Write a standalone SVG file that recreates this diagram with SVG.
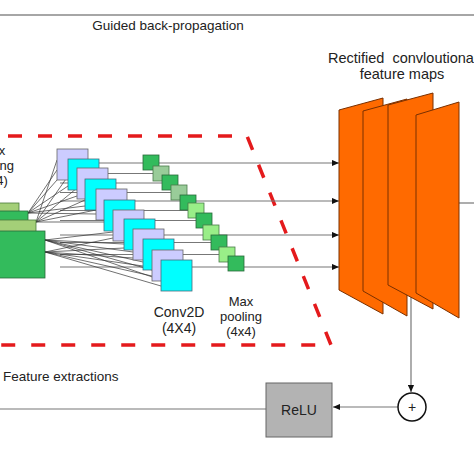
<svg xmlns="http://www.w3.org/2000/svg" width="474" height="474" viewBox="0 0 474 474">
<defs>
<marker id="ah" viewBox="0 0 8 8" refX="8" refY="4" markerWidth="7" markerHeight="7" markerUnits="userSpaceOnUse" orient="auto">
<path d="M0,0.5 L8,4 L0,7.5 Z" fill="#111"/>
</marker>
<style>
text{font-family:"Liberation Sans",Arial,sans-serif;fill:#222}
.ln{stroke:#777;stroke-width:1.2;fill:none}
.fan{stroke:#333;stroke-width:0.7;fill:none}
.lav{fill:#ccccff;stroke:#666;stroke-width:0.8}
.cy{fill:#00ffff;stroke:#4a6a7a;stroke-width:0.8}
.dg{fill:#33bb5c;stroke:#2a6a3a;stroke-width:0.8}
.sg{fill:#99cc99;stroke:#4a7a4a;stroke-width:0.8}
.lg{fill:#99ee88;stroke:#4a7a4a;stroke-width:0.8}
.ol{fill:#a4cf78;stroke:#4a7a3a;stroke-width:0.8}
.map{fill:#ff6a00;stroke:#7a3000;stroke-width:1}
.red{stroke:#e41a1c;stroke-width:3.5;fill:none;stroke-dasharray:14 16;stroke-dashoffset:22}
</style>
</defs>
<rect width="474" height="474" fill="#fff"/>
<line x1="0" y1="15" x2="474" y2="15" stroke="#888" stroke-width="1.5"/>
<text x="168" y="30" font-size="13.5" text-anchor="middle">Guided back-propagation</text>
<text x="328" y="63" font-size="14.5" xml:space="preserve">Rectified  convloutional</text>
<text x="402" y="79" font-size="14.5" text-anchor="middle">feature maps</text>
<path class="red" d="M0,136 L247,136 L331,345 L0,345"/>
<text font-size="13" text-anchor="middle"><tspan x="-7" y="155">Max</tspan><tspan x="-7" y="170">pooling</tspan><tspan x="-7" y="185">(4x4)</tspan></text>
<g id="connectors">
<line class="ln" x1="60" y1="173.5" x2="153" y2="173.5"/>
<line class="ln" x1="60" y1="183" x2="162" y2="183"/>
<line class="ln" x1="60" y1="192.5" x2="171" y2="192.5"/>
<line class="ln" x1="60" y1="210.5" x2="188" y2="210.5"/>
<line class="ln" x1="60" y1="220.5" x2="196" y2="220.5"/>
<line class="ln" x1="60" y1="242.5" x2="211" y2="242.5"/>
<line class="ln" x1="60" y1="254.5" x2="219" y2="254.5"/>
<line class="ln" x1="60" y1="163" x2="339" y2="163" marker-end="url(#ah)"/>
<line class="ln" x1="60" y1="201" x2="339" y2="201" marker-end="url(#ah)"/>
<line class="ln" x1="60" y1="235" x2="339" y2="235" marker-end="url(#ah)"/>
<line class="ln" x1="60" y1="267" x2="339" y2="267" marker-end="url(#ah)"/>
<path class="fan" d="M28,213 L57,170 M28,213 L57,180 M28,213 L68,186 M28,213 L77,196 M28,213 L85,206 M28,213 L96,214 M36,222 L57,160 M36,222 L68,176 M36,222 L77,188 M36,222 L85,200 M36,222 L96,210 M36,222 L104,222"/>
<path class="fan" d="M45,240 L113,232 M45,240 L124,244 M45,240 L133,252 M45,240 L143,262 M45,240 L152,270 M45,240 L161,280 M45,252 L113,238 M45,252 L124,248 M45,252 L133,258 M45,252 L143,266 M45,252 L152,276 M45,252 L161,286"/>
<line class="ln" x1="459" y1="203" x2="474" y2="203"/>
<line class="ln" x1="411" y1="297" x2="411" y2="392" marker-end="url(#ah)"/>
<line class="ln" x1="398" y1="407" x2="333" y2="407" marker-end="url(#ah)"/>
<line class="ln" x1="266" y1="409" x2="0" y2="409"/>
</g>
<g id="input-stack">
<rect class="ol" x="-20" y="203" width="39" height="50"/>
<rect class="dg" x="-20" y="211" width="48" height="50"/>
<rect class="ol" x="-20" y="220" width="56" height="50"/>
<rect class="dg" x="-20" y="231" width="65" height="47"/>
</g>
<g id="conv2d">
<rect class="lav" x="57" y="149" width="31" height="31"/>
<rect class="cy" x="68" y="159" width="31" height="31"/>
<rect class="lav" x="77" y="168" width="31" height="31"/>
<rect class="cy" x="85" y="179" width="31" height="31"/>
<rect class="lav" x="96" y="189" width="31" height="31"/>
<rect class="cy" x="104" y="200" width="31" height="31"/>
<rect class="lav" x="113" y="210" width="31" height="31"/>
<rect class="cy" x="124" y="219" width="31" height="31"/>
<rect class="lav" x="133" y="229" width="31" height="31"/>
<rect class="cy" x="143" y="239" width="31" height="31"/>
<rect class="lav" x="152" y="250" width="31" height="31"/>
<rect class="cy" x="161" y="260" width="31" height="31"/>
<text font-size="14" text-anchor="middle"><tspan x="179" y="317">Conv2D</tspan><tspan x="179" y="333">(4X4)</tspan></text>
</g>
<g id="maxpool">
<rect class="dg" x="143" y="155" width="16" height="15"/>
<rect class="sg" x="153" y="166" width="16" height="15"/>
<rect class="dg" x="162" y="175" width="16" height="15"/>
<rect class="sg" x="171" y="185" width="16" height="15"/>
<rect class="dg" x="180" y="195" width="16" height="15"/>
<rect class="lg" x="188" y="203" width="16" height="15"/>
<rect class="dg" x="196" y="213" width="16" height="15"/>
<rect class="lg" x="203" y="225" width="16" height="15"/>
<rect class="dg" x="211" y="235" width="16" height="15"/>
<rect class="lg" x="219" y="247" width="16" height="15"/>
<rect class="dg" x="228" y="256" width="16" height="15"/>
<text font-size="13" text-anchor="middle"><tspan x="241" y="306">Max</tspan><tspan x="241" y="321">pooling</tspan><tspan x="241" y="336">(4x4)</tspan></text>
</g>
<g id="feature-maps">
<polygon class="map" points="339,110 383,98 383,314 339,290"/>
<polygon class="map" points="363,111 407,99 407,316 363,291"/>
<polygon class="map" points="388,105 433,93 433,309 388,285"/>
<polygon class="map" points="416,115 459,102 459,318 416,293"/>
</g>
<g id="sum">
<circle cx="412" cy="407" r="14" fill="#fff" stroke="#111" stroke-width="1.5"/>
<text x="412" y="412" font-size="14" text-anchor="middle">+</text>
</g>
<g id="relu">
<rect x="266" y="383" width="66" height="54" fill="#b3b3b3" stroke="#666" stroke-width="1"/>
<text x="299" y="415" font-size="14" text-anchor="middle">ReLU</text>
</g>
<text x="3" y="381" font-size="13.5">Feature extractions</text>
</svg>
